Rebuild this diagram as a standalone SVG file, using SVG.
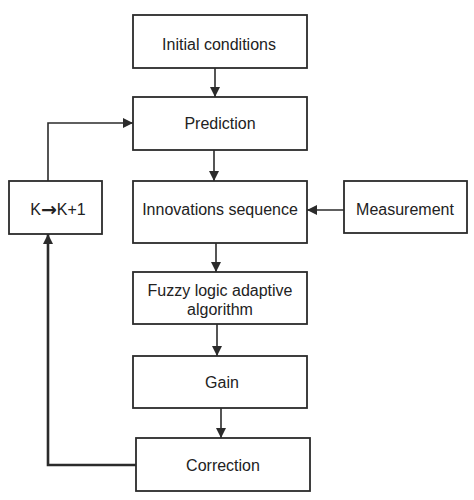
<svg xmlns="http://www.w3.org/2000/svg" width="474" height="500" viewBox="0 0 474 500">
<defs>
<style>
.box{fill:#fff;stroke:#2b2b2b;stroke-width:1.8}
.t{font-family:"Liberation Sans",Arial,sans-serif;font-size:16px;fill:#222;text-anchor:middle}
.c{fill:none;stroke:#2b2b2b;stroke-width:1.6}
.ct{fill:none;stroke:#2b2b2b;stroke-width:2.6}
</style>
<marker id="ah" viewBox="0 0 10 10" refX="10" refY="5" markerWidth="10" markerHeight="10" markerUnits="userSpaceOnUse" orient="auto">
<path d="M0,0 L10,5 L0,10 z" fill="#2b2b2b"/>
</marker>
</defs>
<rect width="474" height="500" fill="#fff"/>
<g id="initial"><rect class="box" x="133" y="15" width="174" height="53"/><text class="t" x="219" y="50">Initial conditions</text></g>
<g id="prediction"><rect class="box" x="133" y="97" width="174" height="53"/><text class="t" x="220" y="129">Prediction</text></g>
<g id="innovations"><rect class="box" x="133" y="181" width="174" height="62"/><text class="t" x="220" y="215">Innovations sequence</text></g>
<g id="k"><rect class="box" x="9" y="181" width="93" height="53"/><text class="t" x="58" y="215">K<tspan style="font-family:'DejaVu Sans',sans-serif;font-size:19px;font-weight:bold" dy="1">→</tspan><tspan dy="-1">K+1</tspan></text></g>
<g id="measurement"><rect class="box" x="344" y="181" width="123" height="52"/><text class="t" x="405" y="215">Measurement</text></g>
<g id="fuzzy"><rect class="box" x="133" y="272" width="174" height="52"/><text class="t" x="220" y="296">Fuzzy logic adaptive</text><text class="t" x="220" y="315">algorithm</text></g>
<g id="gain"><rect class="box" x="133" y="356" width="174" height="52"/><text class="t" x="222" y="388">Gain</text></g>
<g id="correction"><rect class="box" x="136" y="438" width="174" height="53"/><text class="t" x="223" y="471">Correction</text></g>
<g id="connectors">
<path class="c" d="M215,68 V97" marker-end="url(#ah)"/>
<path class="c" d="M214,150 V181" marker-end="url(#ah)"/>
<path class="c" d="M216,243 V272" marker-end="url(#ah)"/>
<path class="c" d="M217,324 V356" marker-end="url(#ah)"/>
<path class="c" d="M221,408 V438" marker-end="url(#ah)"/>
<path class="c" d="M344,210 H307" marker-end="url(#ah)"/>
<path class="c" d="M48,181 V123 H133" marker-end="url(#ah)"/>
<path class="ct" d="M136,465 H48 V234" marker-end="url(#ah)"/>
</g>
</svg>
